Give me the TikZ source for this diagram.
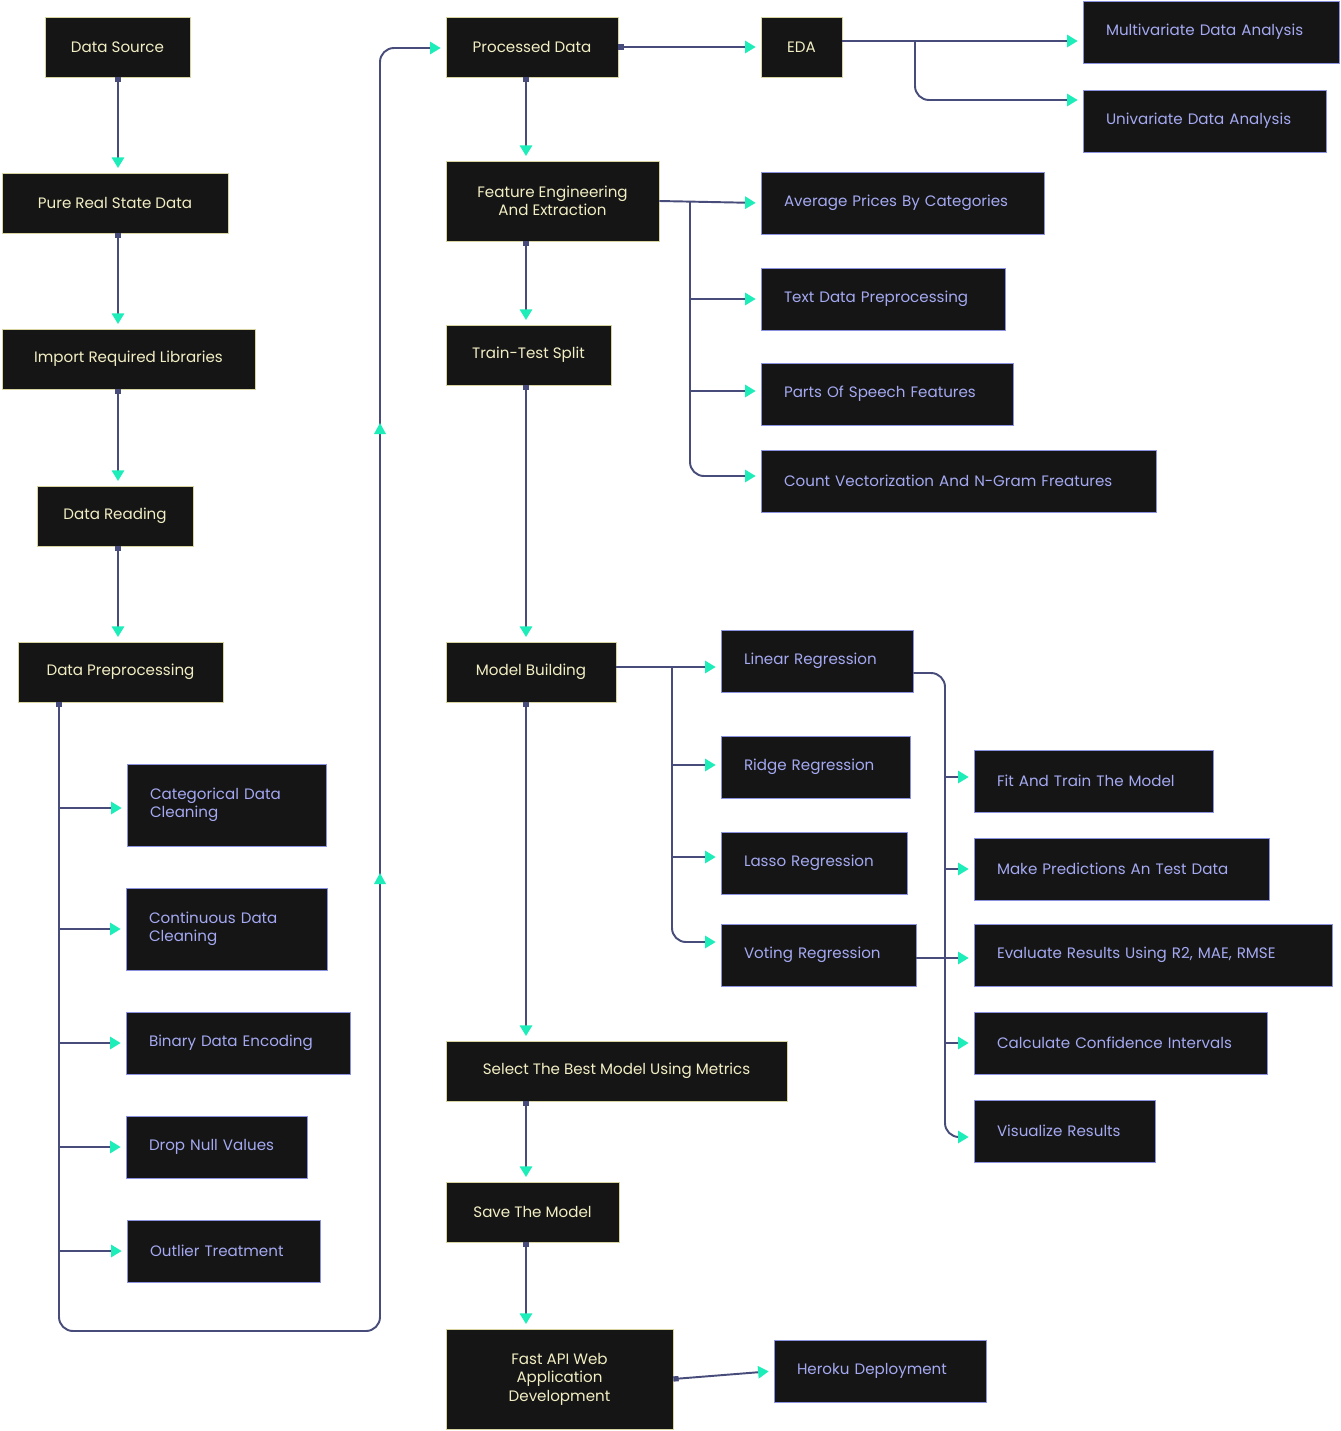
\documentclass[tikz,border=0pt]{standalone}
\usepackage{fontspec}
\setmainfont{Poppins}
\usetikzlibrary{arrows.meta}
\definecolor{boxfill}{HTML}{151515}
\definecolor{mainline}{HTML}{D8D4A2}
\definecolor{maintext}{HTML}{F2EEC4}
\definecolor{subline}{HTML}{8A92E0}
\definecolor{subtext}{HTML}{A4A9F2}
\definecolor{wire}{HTML}{474C7A}
\definecolor{tip}{HTML}{1DEDB8}
\newdimen\pxu
\pxu=0.02cm
\tikzset{
  mainbox/.style={draw=mainline, fill=boxfill, text=maintext, align=center,
    minimum height=60\pxu, inner sep=0pt, font=\fontsize{8.6}{10.5}\selectfont},
  subbox/.style={draw=subline, fill=boxfill, text=subtext, align=left,
    minimum height=62\pxu, inner sep=0pt, font=\fontsize{8.6}{10.5}\selectfont},
  link/.style={draw=wire, line width=1.1pt, -{Triangle[color=tip,length=6pt,width=7pt]}, shorten >=5\pxu},
  flow/.style={link, {Square[color=wire,length=3pt,width=3pt]}-{Triangle[color=tip,length=6pt,width=7pt]}},
  curvy/.style={rounded corners=14\pxu}
}
\newcommand{\sub}[4]{\node[subbox, minimum width=#3\pxu, text width=#3\pxu-46\pxu] (#1) at #2 {#4};}
\begin{document}
\begin{tikzpicture}[x=0.02cm, y=-0.02cm]
\useasboundingbox (0,0) rectangle (1341,1431);

% main chain
\node[mainbox, minimum width=145\pxu] (src) at (117.5,47) {Data Source};
\node[mainbox, minimum width=226\pxu] (pure) at (115,203) {Pure Real State Data};
\node[mainbox, minimum width=253\pxu] (imp) at (128.5,359) {Import Required Libraries};
\node[mainbox, minimum width=156\pxu] (read) at (115,516) {Data Reading};
\node[mainbox, minimum width=205\pxu] (prep) at (120.5,672) {Data Preprocessing};
\node[mainbox, minimum width=172\pxu] (proc) at (532,47) {Processed Data};
\node[mainbox, minimum width=81\pxu] (eda) at (801.5,47) {EDA};
\node[mainbox, minimum width=213\pxu, minimum height=80\pxu] (feat) at (552.5,201) {Feature Engineering\\And Extraction};
\node[mainbox, minimum width=165\pxu] (tts) at (528.5,355) {Train-Test Split};
\node[mainbox, minimum width=170\pxu] (model) at (531,672) {Model Building};
\node[mainbox, minimum width=341\pxu] (select) at (616.5,1071) {Select The Best Model Using Metrics};
\node[mainbox, minimum width=173\pxu] (save) at (532.5,1212) {Save The Model};
\node[mainbox, minimum width=227\pxu, minimum height=100\pxu] (fast) at (559.5,1379) {Fast API Web\\Application\\Development};

% side steps
\sub{multi}{(1211,32)}{256}{Multivariate Data Analysis}
\sub{uni}{(1204.5,121)}{243}{Univariate Data Analysis}
\sub{avg}{(902.5,203)}{283}{Average Prices By Categories}
\sub{txt}{(883,299)}{244}{Text Data Preprocessing}
\sub{pos}{(887,394)}{252}{Parts Of Speech Features}
\sub{cnt}{(958.5,481)}{395}{Count Vectorization And N-Gram Freatures}
\node[subbox, minimum width=199\pxu, minimum height=82\pxu, text width=153\pxu] (cat) at (226.5,805) {Categorical Data\\Cleaning};
\node[subbox, minimum width=201\pxu, minimum height=82\pxu, text width=155\pxu] (cont) at (226.5,929) {Continuous Data\\Cleaning};
\sub{bin}{(238,1043)}{224}{Binary Data Encoding}
\sub{drop}{(216.5,1147)}{181}{Drop Null Values}
\sub{outl}{(223.5,1251)}{193}{Outlier Treatment}
\sub{lin}{(817,661)}{192}{Linear Regression}
\sub{ridge}{(815.5,767)}{189}{Ridge Regression}
\sub{lasso}{(814,863)}{186}{Lasso Regression}
\sub{vote}{(818.5,955)}{195}{Voting Regression}
\sub{fit}{(1093.5,781)}{239}{Fit And Train The Model}
\sub{pred}{(1121.5,869)}{295}{Make Predictions An Test Data}
\sub{eval}{(1153,955)}{358}{Evaluate Results Using R2, MAE, RMSE}
\sub{conf}{(1120.5,1043)}{293}{Calculate Confidence Intervals}
\sub{vis}{(1064.5,1131)}{181}{Visualize Results}
\sub{hero}{(880,1371)}{212}{Heroku Deployment}

% left column
\draw[flow] (118,77) -- (118,173);
\draw[flow] (118,233) -- (118,329);
\draw[flow] (118,389) -- (118,486);
\draw[flow] (118,546) -- (118,642);
\draw[flow, curvy] (59,702) -- (59,1331) -- (380,1331) -- (380,48) -- (proc.west |- 0,48);
\foreach \y in {430,880}
  \fill[tip] (380,\y-7) -- (374,\y+4) -- (386,\y+4) -- cycle;
\foreach \n/\y in {cat/808,cont/929,bin/1043,drop/1147,outl/1251}
  \draw[link] (59,\y) -- (\n.west |- 0,\y);

% middle column
\draw[flow] (proc.east) -- (eda.west);
\draw[flow] (526,77) -- (526,161);
\draw[flow] (526,241) -- (526,325);
\draw[flow] (526,385) -- (526,642);
\draw[flow] (526,702) -- (526,1041);
\draw[flow] (526,1101) -- (526,1182);
\draw[flow] (526,1242) -- (526,1329);
\draw[flow] (fast.east) -- (hero.west);

% branches
\draw[link] (eda.east |- 0,41) -- (multi.west |- 0,41);
\draw[link, curvy] (915,41) -- (915,100) -- (uni.west |- 0,100);
\draw[link] (feat.east) -- (avg.west);
\draw[link] (690,201) -- (690,299) -- (txt.west);
\draw[link] (690,391) -- (pos.west |- 0,391);
\draw[link, curvy] (690,299) -- (690,476) -- (cnt.west |- 0,476);
\draw[link] (model.east |- 0,667) -- (lin.west |- 0,667);
\draw[link] (672,667) |- (ridge.west |- 0,765);
\draw[link] (672,857) -- (lasso.west |- 0,857);
\draw[link, curvy] (672,765) -- (672,942) -- (vote.west |- 0,942);
\draw[link, curvy] (lin.east |- 0,673) -- (945,673) -- (945,1137) -- (vis.west |- 0,1137);
\foreach \n/\y in {fit/777,pred/869,conf/1043}
  \draw[link] (945,\y) -- (\n.west |- 0,\y);
\draw[link] (vote.east |- 0,958) -- (eval.west |- 0,958);
\end{tikzpicture}
\end{document}
